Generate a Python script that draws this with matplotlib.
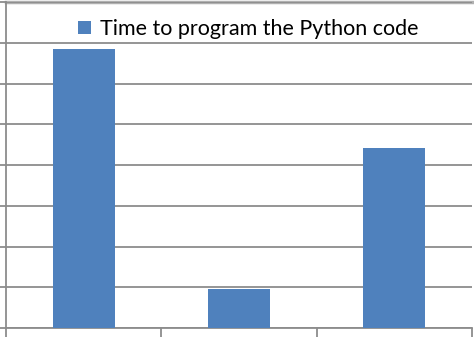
import matplotlib
matplotlib.use("Agg")
import matplotlib.pyplot as plt
from matplotlib.patches import Patch

categories = ["A", "B", "C"]
values = [6.84, 0.96, 4.41]
series_name = "Time to program the Python code"

W, H = 474, 337
fig = plt.figure(figsize=(W / 100, H / 100), dpi=100)
ax = fig.add_axes([6 / W, (H - 328) / H, (472 - 6) / W, (328 - 2) / H])

x = list(range(len(categories)))
ax.bar(x, values, width=0.4, color="#4F81BD", zorder=3)
ax.set_xlim(-0.5, len(categories) - 0.5)
ax.set_ylim(0, 8)
ax.set_yticks(range(0, 9))
ax.set_yticklabels([])
ax.set_xticks([-0.5, 0.5, 1.5, 2.5])
ax.set_xticklabels([])
ax.grid(axis="y", color="#8c8c8c", linewidth=1.3, zorder=0)
for s in ["top", "right"]:
    ax.spines[s].set_visible(False)
ax.spines["left"].set_color("#8c8c8c")
ax.spines["bottom"].set_color("#8c8c8c")
ax.spines["left"].set_linewidth(1.3)
ax.spines["bottom"].set_linewidth(1.3)
ax.tick_params(axis="both", color="#8c8c8c", width=1.3, length=7, direction="out")
ax.axhline(8, color="#b0b0b0", linewidth=2.5, zorder=1, clip_on=False)

handles = [Patch(facecolor="#4F81BD", edgecolor="none")]
fig.legend(handles, [series_name], loc="center", bbox_to_anchor=(248 / W, 1 - 29 / H),
           frameon=False, prop={"family": "Lato", "size": 15.5},
           handlelength=0.6, handleheight=0.6, handletextpad=0.4)

fig.savefig("out.png", dpi=100)
